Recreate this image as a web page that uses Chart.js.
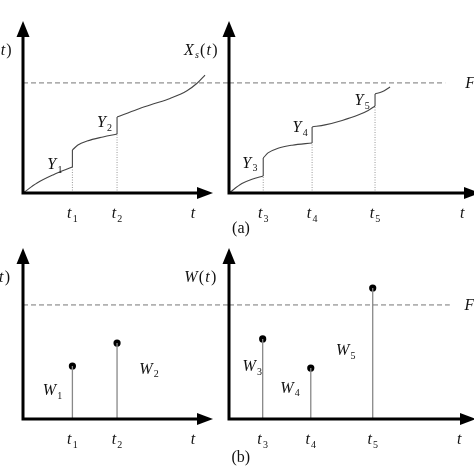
<!DOCTYPE html>
<html>
<head>
<meta charset="utf-8">
<script src="https://cdn.jsdelivr.net/npm/chart.js@4.4.1/dist/chart.umd.min.js"></script>
<style>
  html, body { margin: 0; padding: 0; background: #fff; }
  #fig { position: relative; width: 474px; height: 474px; overflow: hidden; background: #fff; }
  #fig canvas { position: absolute; }
</style>
</head>
<body>
<div id="fig">
  <canvas id="topLeft" width="237" height="237" style="left:0;top:0"></canvas>
  <canvas id="topRight" width="320" height="237" style="left:160px;top:0"></canvas>
  <canvas id="botLeft" width="237" height="237" style="left:0;top:237px"></canvas>
  <canvas id="botRight" width="320" height="237" style="left:160px;top:237px"></canvas>
</div>
<script>
// jump times (arrival instants) for the two halves of the figure
const tLeft = [2.6, 4.95];
const tRight = [1.8, 4.37, 7.68];
const tickNamesLeft = ['t_1', 't_2'];
const tickNamesRight = ['t_3', 't_4', 't_5'];

// X_s(t), one sub-array per segment between jumps
const xsLeftT = [[0, 0.74, 1.58, 2.6], [2.6, 2.89, 3.37, 4.21, 4.95], [4.95, 6.0, 6.84, 7.74, 8.63, 9.16, 9.58]];
const xsLeftV = [[0, 0.58, 1.05, 1.51], [2.5, 2.79, 3.02, 3.26, 3.43], [4.42, 4.86, 5.17, 5.5, 5.95, 6.38, 6.86]];
const xsRightT = [[0, 0.68, 1.21, 1.8], [1.8, 2.05, 2.58, 3.32, 4.37], [4.37, 5.05, 5.95, 6.79, 7.32, 7.68], [7.68, 8.05, 8.47]];
const xsRightV = [[0, 0.55, 0.8, 0.99], [2.03, 2.33, 2.6, 2.78, 2.91], [3.84, 3.96, 4.22, 4.53, 4.8, 5.06], [5.76, 5.88, 6.16]];
const yNamesLeft = ['Y_1', 'Y_2'];
const yNamesRight = ['Y_3', 'Y_4', 'Y_5'];

// W(t) impulses in the bottom panels
const wLeft = [3.1, 4.44];
const wRight = [4.68, 2.98, 7.66];
const wNamesLeft = ['W_1', 'W_2'];
const wNamesRight = ['W_3', 'W_4', 'W_5'];

// threshold F (dashed)
const fTop = 6.4;
const fBottom = 6.67;

const MAIN = 16, SUB = 10, GAP = 1.2;
const FONT = '"Liberation Serif", "Times New Roman", serif';

function drawRich(ctx, str, x, y, align, plain) {
  const parts = [];
  for (let i = 0; i < str.length; i++) {
    let sub = false;
    if (str[i] === '_') { sub = true; i++; }
    const ch = str[i];
    parts.push({ ch: ch, sub: sub, italic: !plain && /[A-Za-z]/.test(ch) });
  }
  const font = p => (p.italic ? 'italic ' : '') + (p.sub ? SUB : MAIN) + 'px ' + FONT;
  let w = 0;
  parts.forEach((p, i) => {
    ctx.font = font(p);
    p.w = ctx.measureText(p.ch).width + (plain || i === parts.length - 1 ? 0 : GAP);
    w += p.w;
  });
  let cx = align === 'left' ? x : align === 'right' ? x - w : x - w / 2;
  const base = y + 5.5;
  ctx.textBaseline = 'alphabetic';
  ctx.textAlign = 'left';
  parts.forEach(p => {
    ctx.font = font(p);
    ctx.fillText(p.ch, cx, p.sub ? base + 3.5 : base);
    cx += p.w;
  });
}

function makeOverlay(meta) {
  return {
    id: 'overlay',
    afterDatasetsDraw(chart) {
      const ctx = chart.ctx, a = chart.chartArea;
      const sx = chart.scales.x, sy = chart.scales.y;
      ctx.save();
      ctx.strokeStyle = '#000';
      ctx.fillStyle = '#000';
      ctx.lineWidth = 3;
      ctx.beginPath();
      ctx.moveTo(a.left - 1.5, a.bottom);
      ctx.lineTo(a.right - 12, a.bottom);
      ctx.moveTo(a.left, a.bottom + 1.5);
      ctx.lineTo(a.left, a.top + 12);
      ctx.stroke();
      ctx.beginPath();
      ctx.moveTo(a.right, a.bottom);
      ctx.lineTo(a.right - 16, a.bottom - 6);
      ctx.lineTo(a.right - 16, a.bottom + 6);
      ctx.closePath();
      ctx.fill();
      ctx.beginPath();
      ctx.moveTo(a.left, a.top);
      ctx.lineTo(a.left - 6.5, a.top + 16);
      ctx.lineTo(a.left + 6.5, a.top + 16);
      ctx.closePath();
      ctx.fill();

      ctx.fillStyle = '#111';
      meta.ticks.forEach((t, i) => {
        drawRich(ctx, meta.tickNames[i], sx.getPixelForValue(t), a.bottom + 19.5, 'center');
      });
      drawRich(ctx, 't', sx.getPixelForValue(meta.axisNameX), a.bottom + 19.5, 'center');
      meta.labels.forEach(l => {
        drawRich(ctx, l.s, sx.getPixelForValue(l.x), sy.getPixelForValue(l.y), l.align || 'center', l.plain);
      });
      ctx.restore();
    }
  };
}

const lineBase = { pointRadius: 0, fill: false, clip: false, tension: 0 };

function thresholdSet(level, end) {
  return Object.assign({}, lineBase, {
    data: [{ x: 0, y: level }, { x: end, y: level }],
    borderColor: '#777', borderWidth: 1, borderDash: [5, 3]
  });
}

function stepSets(segT, segV, jumps, level, dashEnd) {
  const ds = [thresholdSet(level, dashEnd)];
  segT.forEach((ts, i) => {
    ds.push(Object.assign({}, lineBase, {
      data: ts.map((t, k) => ({ x: t, y: segV[i][k] })),
      borderColor: '#444', borderWidth: 1.1, cubicInterpolationMode: 'monotone'
    }));
  });
  jumps.forEach((t, i) => {
    const before = segV[i][segV[i].length - 1];
    const after = segV[i + 1][0];
    ds.push(Object.assign({}, lineBase, {
      data: [{ x: t, y: 0 }, { x: t, y: before }],
      borderColor: '#999', borderWidth: 1, borderDash: [1, 1.5]
    }));
    ds.push(Object.assign({}, lineBase, {
      data: [{ x: t, y: before }, { x: t, y: after }],
      borderColor: '#444', borderWidth: 1.1
    }));
  });
  return ds;
}

function stemSets(ts, ws, level, dashEnd) {
  const ds = [thresholdSet(level, dashEnd)];
  ts.forEach((t, i) => {
    ds.push(Object.assign({}, lineBase, {
      data: [{ x: t, y: 0 }, { x: t, y: ws[i] }],
      borderColor: '#888', borderWidth: 1.3
    }));
  });
  ds.push({
    data: ts.map((t, i) => ({ x: t, y: ws[i] })),
    showLine: false, clip: false,
    pointRadius: 3.6, pointBackgroundColor: '#000', pointBorderColor: '#000', pointBorderWidth: 0
  });
  return ds;
}

function panel(id, datasets, xMax, padding, meta) {
  new Chart(document.getElementById(id), {
    type: 'line',
    data: { datasets: datasets },
    options: {
      responsive: false,
      animation: false,
      events: [],
      layout: { padding: padding },
      scales: {
        x: { type: 'linear', min: 0, max: xMax, display: false },
        y: { type: 'linear', min: 0, max: 10, display: false }
      },
      plugins: { legend: { display: false }, tooltip: { enabled: false } }
    },
    plugins: [makeOverlay(meta)]
  });
}

// top left
panel('topLeft', stepSets(xsLeftT, xsLeftV, tLeft, fTop, 10.84), 10,
  { left: 23, top: 21, right: 24, bottom: 44 },
  {
    ticks: tLeft, tickNames: tickNamesLeft, axisNameX: 8.95,
    labels: [
      { s: yNamesLeft[0], x: 1.68, y: 1.69 },
      { s: yNamesLeft[1], x: 4.29, y: 4.13 },
      { s: 'X_s(t)', x: -0.6, y: 8.37, align: 'right' }
    ]
  });

// top right
panel('topRight', stepSets(xsRightT, xsRightV, tRight, fTop, 11.37), 13.2,
  { left: 69, top: 21, right: 0, bottom: 44 },
  {
    ticks: tRight, tickNames: tickNamesRight, axisNameX: 12.26,
    labels: [
      { s: yNamesRight[0], x: 1.1, y: 1.8 },
      { s: yNamesRight[1], x: 3.74, y: 3.84 },
      { s: yNamesRight[2], x: 7.0, y: 5.41 },
      { s: 'X_s(t)', x: -0.6, y: 8.37, align: 'right' },
      { s: 'F', x: 12.42, y: fTop, align: 'left' },
      { s: '(a)', x: 0.63, y: -1.98, plain: true }
    ]
  });

// bottom left
panel('botLeft', stemSets(tLeft, wLeft, fBottom, 10.84), 10,
  { left: 23, top: 11, right: 24, bottom: 55 },
  {
    ticks: tLeft, tickNames: tickNamesLeft, axisNameX: 8.95,
    labels: [
      { s: wNamesLeft[0], x: 1.55, y: 1.7 },
      { s: wNamesLeft[1], x: 6.63, y: 2.98 },
      { s: 'W(t)', x: -0.68, y: 8.36, align: 'right' }
    ]
  });

// bottom right
panel('botRight', stemSets(tRight, wRight, fBottom, 11.8), 13.2,
  { left: 69, top: 11, right: 0, bottom: 55 },
  {
    ticks: tRight, tickNames: tickNamesRight, axisNameX: 12.3,
    labels: [
      { s: wNamesRight[0], x: 1.24, y: 3.1 },
      { s: wNamesRight[1], x: 3.26, y: 1.87 },
      { s: wNamesRight[2], x: 6.24, y: 4.04 },
      { s: 'W(t)', x: -0.68, y: 8.36, align: 'right' },
      { s: 'F', x: 12.58, y: fBottom, align: 'left' },
      { s: '(b)', x: 0.63, y: -2.22, plain: true }
    ]
  });
</script>
</body>
</html>
